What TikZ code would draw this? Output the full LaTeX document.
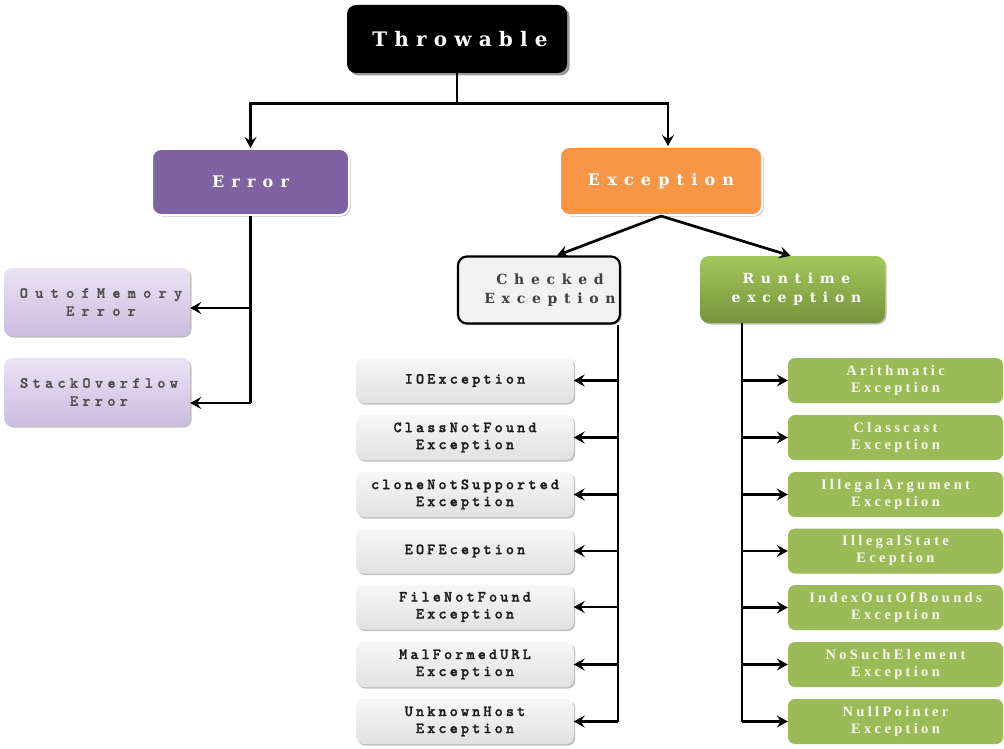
\documentclass[tikz,border=0pt]{standalone}
\usepackage{fontspec}
\usetikzlibrary{arrows.meta,shadows}
\newfontfamily\hdfont{DejaVu Serif}
\newfontfamily\courb{lmmonolt10-bold}[Extension=.otf, FakeBold=1.6]
\newfontfamily\rtfont{Liberation Serif}
\definecolor{errpurple}{HTML}{7F62A1}
\definecolor{excorange}{HTML}{F79646}
\definecolor{lavtop}{HTML}{EAE3F3}
\definecolor{lavbot}{HTML}{CCBCE0}
\definecolor{chkfill}{HTML}{F2F2F2}
\definecolor{grntop}{HTML}{A3C75C}
\definecolor{grnbot}{HTML}{77933C}
\definecolor{grnbox}{HTML}{9BBB59}
\definecolor{grntext}{HTML}{F7F7EA}
\definecolor{graytext}{HTML}{505050}
\definecolor{darktext}{HTML}{1E1E1E}
\tikzset{
  base/.style={align=center, inner sep=0pt, anchor=center},
  softshadow/.style={drop shadow={shadow xshift=1.5pt, shadow yshift=-1.5pt, opacity=0.25, fill=black}},
  topbox/.style={base, rounded corners=9pt, fill=black, text=white,
     minimum width=220pt, minimum height=68pt,
     drop shadow={shadow xshift=2.5pt, shadow yshift=-2.5pt, opacity=0.4, fill=black},
     font=\hdfont\bfseries\fontsize{20}{24}\selectfont\addfontfeature{LetterSpace=36}},
  midbox/.style={base, rounded corners=9pt, draw=white, line width=2pt, text=white,
     softshadow,
     font=\hdfont\bfseries\fontsize{16}{19}\selectfont\addfontfeature{LetterSpace=45}},
  lavbox/.style={base, rounded corners=8pt, top color=lavtop, bottom color=lavbot,
     minimum width=186pt, minimum height=68pt, text=graytext, softshadow},
  chkbox/.style={base, rounded corners=9pt, draw=black, line width=2.2pt, fill=chkfill,
     minimum width=162pt, minimum height=67pt, text=darktext!85!white, softshadow,
     font=\hdfont\bfseries\fontsize{14}{19}\selectfont\addfontfeature{LetterSpace=48}},
  rtbox/.style={base, rounded corners=9pt, top color=grntop, bottom color=grnbot,
     minimum width=185pt, minimum height=67pt, text=white, softshadow,
     font=\hdfont\bfseries\fontsize{14}{19}\selectfont\addfontfeature{LetterSpace=48}},
  cbox/.style={base, rounded corners=7pt, top color=chkfill!60!white, bottom color=chkfill!93!black,
     minimum width=217pt, minimum height=45pt, text=darktext, softshadow,
     font=\courb\fontsize{15.5}{17}\selectfont\addfontfeature{LetterSpace=20}},
  gbox/.style={base, rounded corners=7pt, fill=grnbox,
     minimum width=215pt, minimum height=45pt, text=grntext,
     font=\rtfont\bfseries\fontsize{14.5}{17}\selectfont\addfontfeature{LetterSpace=23}},
  conn/.style={line width=2.7pt, draw=black},
  arr/.style={conn, -{Stealth[length=11pt,width=12pt,inset=4pt]}},
}
\begin{document}
\begin{tikzpicture}[x=1pt,y=-1pt]
\useasboundingbox (0,0) rectangle (1004,749);
\fill[white] (0,0) rectangle (1004,749);

% main nodes
\node[topbox] (thr) at (457,39) {\hspace*{6pt}Throwable};
\node[midbox, fill=errpurple, minimum width=197pt, minimum height=66pt] (err) at (250.5,182) {Error};
\node[midbox, fill=excorange, minimum width=202pt, minimum height=68pt] (exc) at (661,181) {Exception};

\node[lavbox, font=\courb\fontsize{15.5}{18}\selectfont\addfontfeature{LetterSpace=47}] (oom) at (97,302) {\hspace*{8pt}OutofMemory\\\hspace*{8pt}Error};
\node[lavbox, font=\courb\fontsize{15.5}{18}\selectfont\addfontfeature{LetterSpace=28}] (soe) at (97,392) {\hspace*{4pt}StackOverflow\\\hspace*{4pt}Error};

\node[chkbox] (chk) at (539,290) {\hspace*{22pt}Checked\\\hspace*{22pt}Exception};
\node[rtbox] (rt) at (792.5,289.5) {\hspace*{8pt}Runtime\\\hspace*{8pt}exception};

% checked children
\node[cbox] (c1) at (465,380.5) {IOException};
\node[cbox] (c2) at (465,437.5) {ClassNotFound\\Exception};
\node[cbox] (c3) at (465,494.5) {cloneNotSupported\\Exception};
\node[cbox] (c4) at (465,551) {EOFEception};
\node[cbox] (c5) at (465,607) {FileNotFound\\Exception};
\node[cbox] (c6) at (465,664.5) {MalFormedURL\\Exception};
\node[cbox] (c7) at (465,721.5) {UnknownHost\\Exception};

% runtime children
\node[gbox] (r1) at (895.5,380.5) {Arithmatic\\Exception};
\node[gbox] (r2) at (895.5,437.5) {Classcast\\Exception};
\node[gbox] (r3) at (895.5,494.5) {IllegalArgument\\Exception};
\node[gbox] (r4) at (895.5,551) {IllegalState\\Eception};
\node[gbox] (r5) at (895.5,607.5) {IndexOutOfBounds\\Exception};
\node[gbox] (r6) at (895.5,664.5) {NoSuchElement\\Exception};
\node[gbox] (r7) at (895.5,721.5) {NullPointer\\Exception};

% connectors: throwable
\coordinate (j1) at ([yshift=-30pt]thr.south);
\draw[conn] (thr.south) -- (j1);
\draw[arr] (j1) -| (err.north);
\draw[arr] (j1) -| ([xshift=7pt]exc.north);

% error branch
\coordinate (ev) at (err.south |- 0,403);
\draw[conn] (err.south) -- (ev);
\draw[arr] (ev) -- (soe.east |- ev);
\draw[arr] (err.south |- 0,308) -- (oom.east |- 0,308);

% exception split
\draw[arr] (exc.south) -- ([xshift=18pt]chk.north);
\draw[arr] (exc.south) -- ([xshift=-2pt]rt.north);

% checked branch
\coordinate (cv) at ([xshift=79pt]chk.south);
\draw[conn] (cv) -- (cv |- c7.east);
\foreach \n in {c1,c2,c3,c4,c5,c6,c7}{
  \draw[arr] (cv |- \n.east) -- (\n.east);
}

% runtime branch
\coordinate (rv) at ([xshift=-50.5pt]rt.south);
\draw[conn] (rv) -- (rv |- r7.west);
\foreach \n in {r1,r2,r3,r4,r5,r6,r7}{
  \draw[arr] (rv |- \n.west) -- (\n.west);
}
\end{tikzpicture}
\end{document}
